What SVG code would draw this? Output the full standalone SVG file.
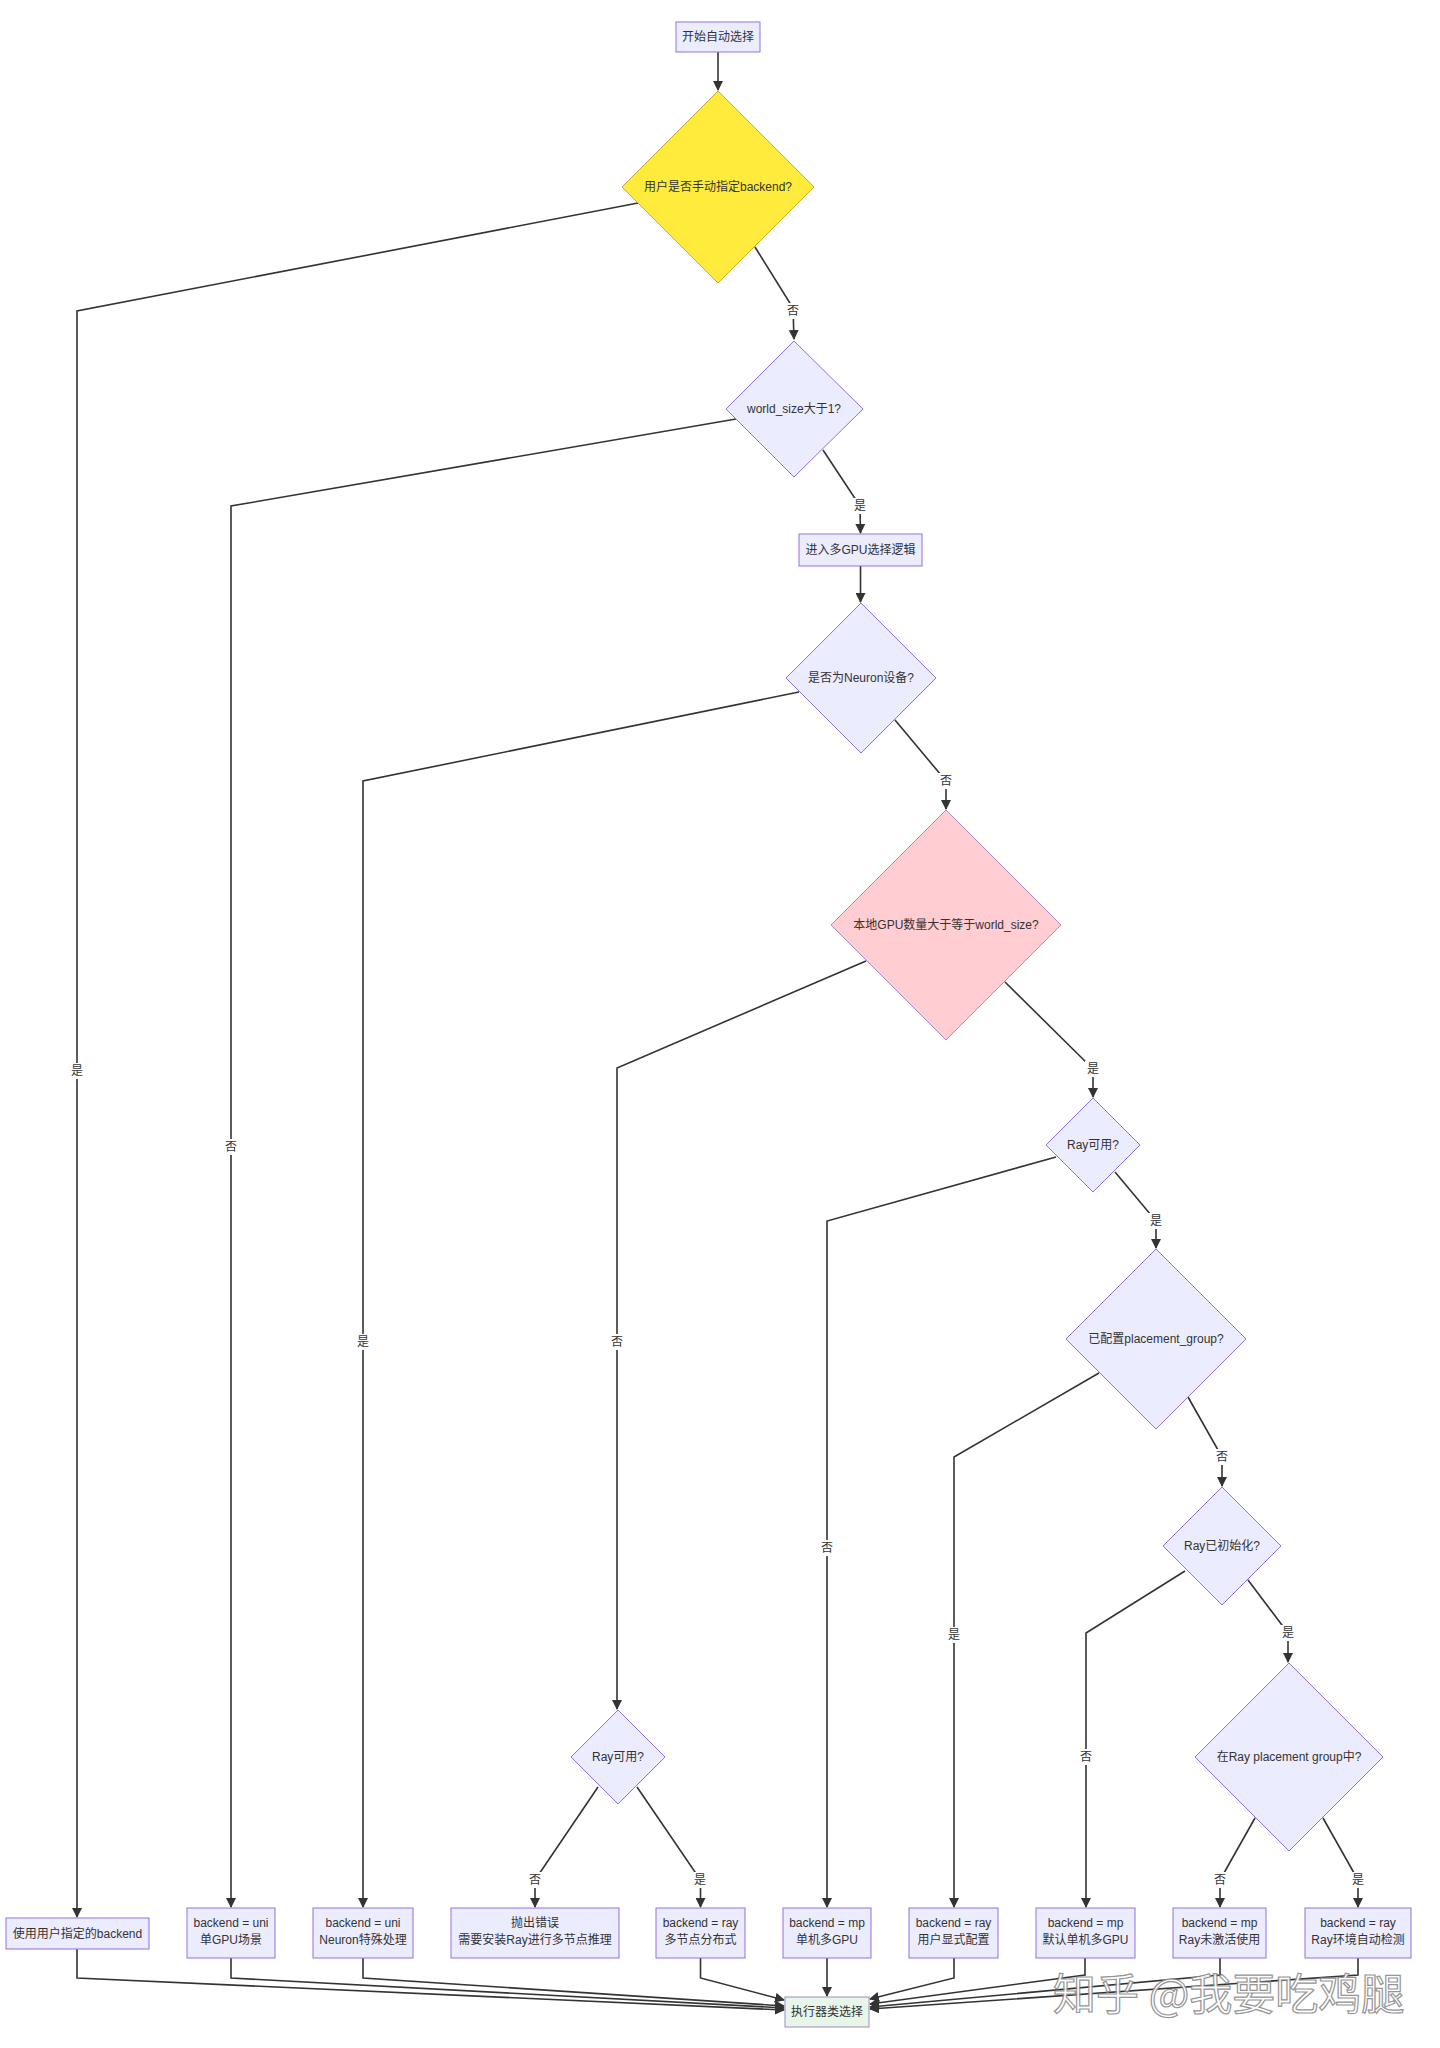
<svg xmlns="http://www.w3.org/2000/svg" width="1440" height="2048" viewBox="0 0 1440 2048">
<defs>
<marker id="arr" viewBox="0 0 10 10" refX="9" refY="5" markerWidth="10" markerHeight="10" markerUnits="userSpaceOnUse" orient="auto">
<path d="M0,0 L10,5 L0,10 z" fill="#333333"/>
</marker>
<style>
.node{fill:#ECECFF;stroke:#9370DB;stroke-width:1}
.yel{fill:#FFEB3B;stroke:#C9A92E;stroke-width:1}
.pink{fill:#FFCDD2;stroke:#A98BC9;stroke-width:1}
.green{fill:#E8F5E9;stroke:#9A8FC0;stroke-width:1}
.t{font-family:"Liberation Sans","Noto Sans CJK SC",sans-serif;font-size:12px;fill:#333333;text-anchor:middle;dominant-baseline:central}
.e{fill:none;stroke:#333333;stroke-width:1.6}
.lb{fill:#ffffff}
.wm{font-family:"Noto Sans CJK SC",sans-serif;font-size:43px;fill:#ffffff;stroke:#8a8a8a;stroke-width:1.2;opacity:0.9}
</style>
</defs>
<rect width="1440" height="2048" fill="#ffffff"/>

<g id="connectors">
<path class="e" d="M718,52 L718,90" marker-end="url(#arr)"/>
<path class="e" d="M638,203 L77,311 L77,1917" marker-end="url(#arr)"/>
<path class="e" d="M755,247 L793,308 L794,339" marker-end="url(#arr)"/>
<path class="e" d="M736,419 L231,506 L231,1907" marker-end="url(#arr)"/>
<path class="e" d="M823,450 L860,506 L860.5,533" marker-end="url(#arr)"/>
<path class="e" d="M860.5,566 L860.5,602" marker-end="url(#arr)"/>
<path class="e" d="M799,692 L363,781 L363,1907" marker-end="url(#arr)"/>
<path class="e" d="M895,720 L946,781 L946,809" marker-end="url(#arr)"/>
<path class="e" d="M866,961 L617,1068 L617,1709" marker-end="url(#arr)"/>
<path class="e" d="M1005,982 L1093,1069 L1093,1097" marker-end="url(#arr)"/>
<path class="e" d="M1056,1157 L827,1221 L827,1907" marker-end="url(#arr)"/>
<path class="e" d="M1115,1172 L1156,1221 L1156,1248" marker-end="url(#arr)"/>
<path class="e" d="M1099,1373 L954,1457 L954,1907" marker-end="url(#arr)"/>
<path class="e" d="M1188,1397 L1222,1457 L1222,1486" marker-end="url(#arr)"/>
<path class="e" d="M1185,1571 L1086,1633 L1086,1907" marker-end="url(#arr)"/>
<path class="e" d="M1248,1580 L1288,1633 L1288,1662" marker-end="url(#arr)"/>
<path class="e" d="M1255,1818 L1220,1880 L1220,1907" marker-end="url(#arr)"/>
<path class="e" d="M1323,1818 L1358,1880 L1358,1907" marker-end="url(#arr)"/>
<path class="e" d="M598,1787 L535,1880 L535,1907" marker-end="url(#arr)"/>
<path class="e" d="M637,1787 L700.5,1880 L700.5,1907" marker-end="url(#arr)"/>
<path class="e" d="M77,1949 L77,1978 L784,2010" marker-end="url(#arr)"/>
<path class="e" d="M231,1958 L231,1978 L784,2008" marker-end="url(#arr)"/>
<path class="e" d="M363,1958 L363,1978 L784,2006" marker-end="url(#arr)"/>
<path class="e" d="M700.5,1958 L700.5,1978 L784,2000" marker-end="url(#arr)"/>
<path class="e" d="M827,1958 L827,1996" marker-end="url(#arr)"/>
<path class="e" d="M954,1958 L954,1978 L870,1999" marker-end="url(#arr)"/>
<path class="e" d="M1085,1958 L1085,1975 L870,2004" marker-end="url(#arr)"/>
<path class="e" d="M1220,1958 L1220,1975 L870,2007" marker-end="url(#arr)"/>
<path class="e" d="M1358,1958 L1358,1975 L870,2009" marker-end="url(#arr)"/>
</g>

<g id="edge-labels">
<rect class="lb" x="69" y="1063" width="16" height="16"/><text class="t" x="77" y="1071">是</text>
<rect class="lb" x="785" y="303" width="16" height="16"/><text class="t" x="793" y="311">否</text>
<rect class="lb" x="223" y="1139" width="16" height="16"/><text class="t" x="231" y="1147">否</text>
<rect class="lb" x="852" y="498" width="16" height="16"/><text class="t" x="860" y="506">是</text>
<rect class="lb" x="355" y="1334" width="16" height="16"/><text class="t" x="363" y="1342">是</text>
<rect class="lb" x="938" y="773" width="16" height="16"/><text class="t" x="946" y="781">否</text>
<rect class="lb" x="609" y="1334" width="16" height="16"/><text class="t" x="617" y="1342">否</text>
<rect class="lb" x="1085" y="1061" width="16" height="16"/><text class="t" x="1093" y="1069">是</text>
<rect class="lb" x="819" y="1540" width="16" height="16"/><text class="t" x="827" y="1548">否</text>
<rect class="lb" x="1148" y="1213" width="16" height="16"/><text class="t" x="1156" y="1221">是</text>
<rect class="lb" x="946" y="1627" width="16" height="16"/><text class="t" x="954" y="1635">是</text>
<rect class="lb" x="1214" y="1449" width="16" height="16"/><text class="t" x="1222" y="1457">否</text>
<rect class="lb" x="1078" y="1749" width="16" height="16"/><text class="t" x="1086" y="1757">否</text>
<rect class="lb" x="1280" y="1625" width="16" height="16"/><text class="t" x="1288" y="1633">是</text>
<rect class="lb" x="1212" y="1872" width="16" height="16"/><text class="t" x="1220" y="1880">否</text>
<rect class="lb" x="1350" y="1872" width="16" height="16"/><text class="t" x="1358" y="1880">是</text>
<rect class="lb" x="527" y="1872" width="16" height="16"/><text class="t" x="535" y="1880">否</text>
<rect class="lb" x="692" y="1872" width="16" height="16"/><text class="t" x="700" y="1880">是</text>
</g>

<g id="start"><rect class="node" x="676" y="22" width="84" height="30"/><text class="t" x="718" y="37">开始自动选择</text></g>
<g id="d_user"><polygon class="yel" points="718,91 814,187 718,283 622,187"/><text class="t" x="718" y="187">用户是否手动指定backend?</text></g>
<g id="d_world"><polygon class="node" points="794,341 863,409 794,477 726,409"/><text class="t" x="794" y="409">world_size大于1?</text></g>
<g id="multi"><rect class="node" x="799" y="534" width="123" height="32"/><text class="t" x="860.5" y="550">进入多GPU选择逻辑</text></g>
<g id="d_neuron"><polygon class="node" points="861,603 936,678 861,753 786,678"/><text class="t" x="861" y="678">是否为Neuron设备?</text></g>
<g id="d_local"><polygon class="pink" points="946,810 1061,925 946,1040 831,925"/><text class="t" x="946" y="925">本地GPU数量大于等于world_size?</text></g>
<g id="d_ray1"><polygon class="node" points="1093,1098 1140,1145 1093,1192 1046,1145"/><text class="t" x="1093" y="1145">Ray可用?</text></g>
<g id="d_pg"><polygon class="node" points="1156,1249 1246,1339 1156,1429 1066,1339"/><text class="t" x="1156" y="1339">已配置placement_group?</text></g>
<g id="d_init"><polygon class="node" points="1222,1487 1281,1546 1222,1605 1163,1546"/><text class="t" x="1222" y="1546">Ray已初始化?</text></g>
<g id="d_inpg"><polygon class="node" points="1289,1663 1383,1757 1289,1851 1195,1757"/><text class="t" x="1289" y="1757">在Ray placement group中?</text></g>
<g id="d_ray2"><polygon class="node" points="618,1710 665,1757 618,1804 571,1757"/><text class="t" x="618" y="1757">Ray可用?</text></g>

<g id="b_user"><rect class="node" x="6" y="1918" width="143" height="31"/><text class="t" x="77.5" y="1934">使用用户指定的backend</text></g>
<g id="b_uni1"><rect class="node" x="187" y="1908" width="88" height="50"/><text class="t" x="231" y="1923">backend = uni</text><text class="t" x="231" y="1940">单GPU场景</text></g>
<g id="b_uni2"><rect class="node" x="313" y="1908" width="100" height="50"/><text class="t" x="363" y="1923">backend = uni</text><text class="t" x="363" y="1940">Neuron特殊处理</text></g>
<g id="b_err"><rect class="node" x="451" y="1908" width="168" height="50"/><text class="t" x="535" y="1923">抛出错误</text><text class="t" x="535" y="1940">需要安装Ray进行多节点推理</text></g>
<g id="b_ray1"><rect class="node" x="656" y="1908" width="89" height="50"/><text class="t" x="700.5" y="1923">backend = ray</text><text class="t" x="700.5" y="1940">多节点分布式</text></g>
<g id="b_mp1"><rect class="node" x="783" y="1908" width="88" height="50"/><text class="t" x="827" y="1923">backend = mp</text><text class="t" x="827" y="1940">单机多GPU</text></g>
<g id="b_ray2"><rect class="node" x="909" y="1908" width="89" height="50"/><text class="t" x="953.5" y="1923">backend = ray</text><text class="t" x="953.5" y="1940">用户显式配置</text></g>
<g id="b_mp2"><rect class="node" x="1036" y="1908" width="99" height="50"/><text class="t" x="1085.5" y="1923">backend = mp</text><text class="t" x="1085.5" y="1940">默认单机多GPU</text></g>
<g id="b_mp3"><rect class="node" x="1173" y="1908" width="93" height="50"/><text class="t" x="1219.5" y="1923">backend = mp</text><text class="t" x="1219.5" y="1940">Ray未激活使用</text></g>
<g id="b_ray3"><rect class="node" x="1305" y="1908" width="106" height="50"/><text class="t" x="1358" y="1923">backend = ray</text><text class="t" x="1358" y="1940">Ray环境自动检测</text></g>
<g id="exec"><rect class="green" x="785" y="1997" width="84" height="30"/><text class="t" x="827" y="2012">执行器类选择</text></g>

<text class="wm" x="1053" y="2010">知乎 @我要吃鸡腿</text>
</svg>
